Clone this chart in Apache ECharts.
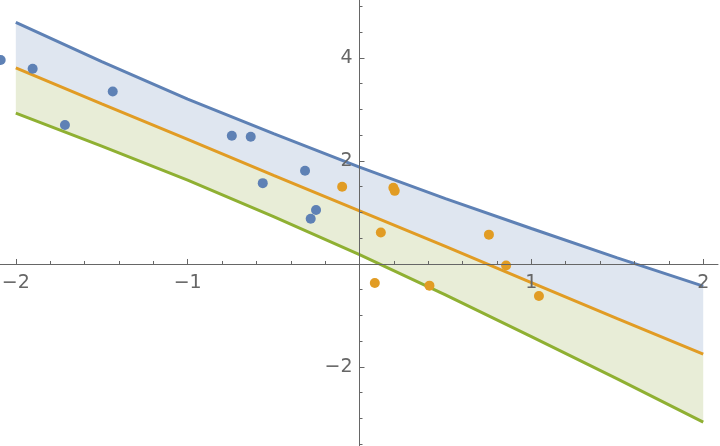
<!DOCTYPE html>
<html>
<head>
<meta charset="utf-8">
<script src="https://cdn.jsdelivr.net/npm/echarts@6/dist/echarts.min.js"></script>
<style>
html,body{margin:0;padding:0;background:#fff;}
#chart{width:720px;height:446px;}
</style>
</head>
<body>
<div id="chart"></div>
<script>
// Band sample positions and read-off values
const bandX = [-2, -1.5, -1, -0.5, 0, 0.5, 1, 1.5, 2];
const upperBand = [4.69, 3.93, 3.20, 2.53, 1.88, 1.27, 0.69, 0.12, -0.43];
const fitLine   = [3.81, 3.11, 2.42, 1.72, 1.03, 0.34, -0.36, -1.06, -1.75];
const lowerBand = [2.93, 2.29, 1.63, 0.92, 0.18, -0.60, -1.41, -2.23, -3.07];

// Scatter points
const blueX = [-2.088, -1.902, -1.714, -1.436, -0.743, -0.633, -0.563, -0.317, -0.253, -0.284];
const blueY = [3.96, 3.79, 2.70, 3.35, 2.49, 2.47, 1.57, 1.81, 1.05, 0.88];
const orangeX = [-0.101, 0.089, 0.124, 0.197, 0.205, 0.407, 0.753, 0.853, 1.044];
const orangeY = [1.50, -0.37, 0.61, 1.48, 1.42, -0.42, 0.57, -0.03, -0.62];

// Ticks
const xLabelTicks = [-2, -1, 1, 2];
const xMinorTicks = [-1.8, -1.6, -1.4, -1.2, -0.8, -0.6, -0.4, -0.2, 0.2, 0.4, 0.6, 0.8, 1.2, 1.4, 1.6, 1.8];
const yLabelTicks = [-2, 2, 4];
const yMinorTicks = [-3.5, -3, -2.5, -1.5, -1, -0.5, 0.5, 1, 1.5, 2.5, 3, 3.5, 4.5, 5];

const C_BLUE = '#5E81B5', C_ORANGE = '#E19C24', C_GREEN = '#8FB032';
const FILL_BLUE = '#DFE6F0', FILL_GREEN = '#E8EDD7';
const AX = '#666666';
const fmt = v => (v < 0 ? '\u2212' + Math.abs(v) : String(v));
const pairs = (xs, ys) => xs.map((x, i) => [x, ys[i]]);

const XMIN = -2.092, XMAX = 2.086, YMIN = -3.534, YMAX = 5.126;
const GRID = { left: 0, top: 0, width: 718, height: 446, containLabel: false, outerBoundsMode: 'none' };

function bandSeries(name, topVals, botVals, fill) {
  return {
    type: 'custom', name: name, z: 2, silent: true,
    data: [[bandX[0], topVals[0]]],
    renderItem: function (params, api) {
      const pts = bandX.map((x, i) => api.coord([x, topVals[i]]));
      for (let i = bandX.length - 1; i >= 0; i--) pts.push(api.coord([bandX[i], botVals[i]]));
      return { type: 'polygon', shape: { points: pts }, style: { fill: fill, stroke: null } };
    }
  };
}

function buildOption(xOffset, yOffset) {
  const xa = (extra) => Object.assign({ type: 'value', min: XMIN, max: XMAX, position: 'bottom', offset: xOffset, z: 10, splitLine: { show: false } }, extra);
  const ya = (extra) => Object.assign({ type: 'value', min: YMIN, max: YMAX, position: 'left', offset: yOffset, z: 10, splitLine: { show: false } }, extra);
  return {
    animation: false,
    backgroundColor: '#ffffff',
    grid: GRID,
    xAxis: [
      xa({
        axisLine: { show: true, onZero: false, lineStyle: { color: AX, width: 1 } },
        axisTick: { show: true, inside: true, length: 5, customValues: xLabelTicks, lineStyle: { color: AX, width: 1 } },
        axisLabel: { show: true, customValues: xLabelTicks, formatter: fmt, color: AX, fontSize: 19, fontFamily: 'DejaVu Sans', margin: 10 }
      }),
      xa({
        axisLine: { show: false, onZero: false },
        axisTick: { show: true, inside: true, length: 3, customValues: xMinorTicks, lineStyle: { color: AX, width: 1 } },
        axisLabel: { show: false }
      })
    ],
    yAxis: [
      ya({
        axisLine: { show: true, onZero: false, lineStyle: { color: AX, width: 1 } },
        axisTick: { show: true, inside: true, length: 5, customValues: yLabelTicks, lineStyle: { color: AX, width: 1 } },
        axisLabel: { show: true, customValues: yLabelTicks, formatter: fmt, color: AX, fontSize: 19, fontFamily: 'DejaVu Sans', margin: 7 }
      }),
      ya({
        axisLine: { show: false, onZero: false },
        axisTick: { show: true, inside: true, length: 3, customValues: yMinorTicks, lineStyle: { color: AX, width: 1 } },
        axisLabel: { show: false }
      })
    ],
    series: [
      bandSeries('upperBand', upperBand, fitLine, FILL_BLUE),
      bandSeries('lowerBand', fitLine, lowerBand, FILL_GREEN),
      { type: 'line', name: 'upper', data: pairs(bandX, upperBand), symbol: 'none', z: 3, lineStyle: { color: C_BLUE, width: 3 } },
      { type: 'line', name: 'fit', data: pairs(bandX, fitLine), symbol: 'none', z: 3, lineStyle: { color: C_ORANGE, width: 3 } },
      { type: 'line', name: 'lower', data: pairs(bandX, lowerBand), symbol: 'none', z: 3, lineStyle: { color: C_GREEN, width: 3 } },
      { type: 'scatter', name: 'blue', data: pairs(blueX, blueY), symbol: 'circle', symbolSize: 10, z: 6, itemStyle: { color: C_BLUE, opacity: 1 }, clip: false },
      { type: 'scatter', name: 'orange', data: pairs(orangeX, orangeY), symbol: 'circle', symbolSize: 10, z: 6, itemStyle: { color: C_ORANGE, opacity: 1 }, clip: false }
    ]
  };
}

const chart = echarts.init(document.getElementById('chart'), null, { renderer: 'canvas' });
chart.setOption(buildOption(0, 0));
// Place the axes through the origin using the chart's own scale
const origin = chart.convertToPixel({ gridIndex: 0 }, [0, 0]);
const xOff = origin[1] - (GRID.top + GRID.height);   // negative => move bottom axis up
const yOff = GRID.left - origin[0];                  // negative => move left axis right
chart.setOption(buildOption(xOff, yOff), true);
</script>
</body>
</html>
